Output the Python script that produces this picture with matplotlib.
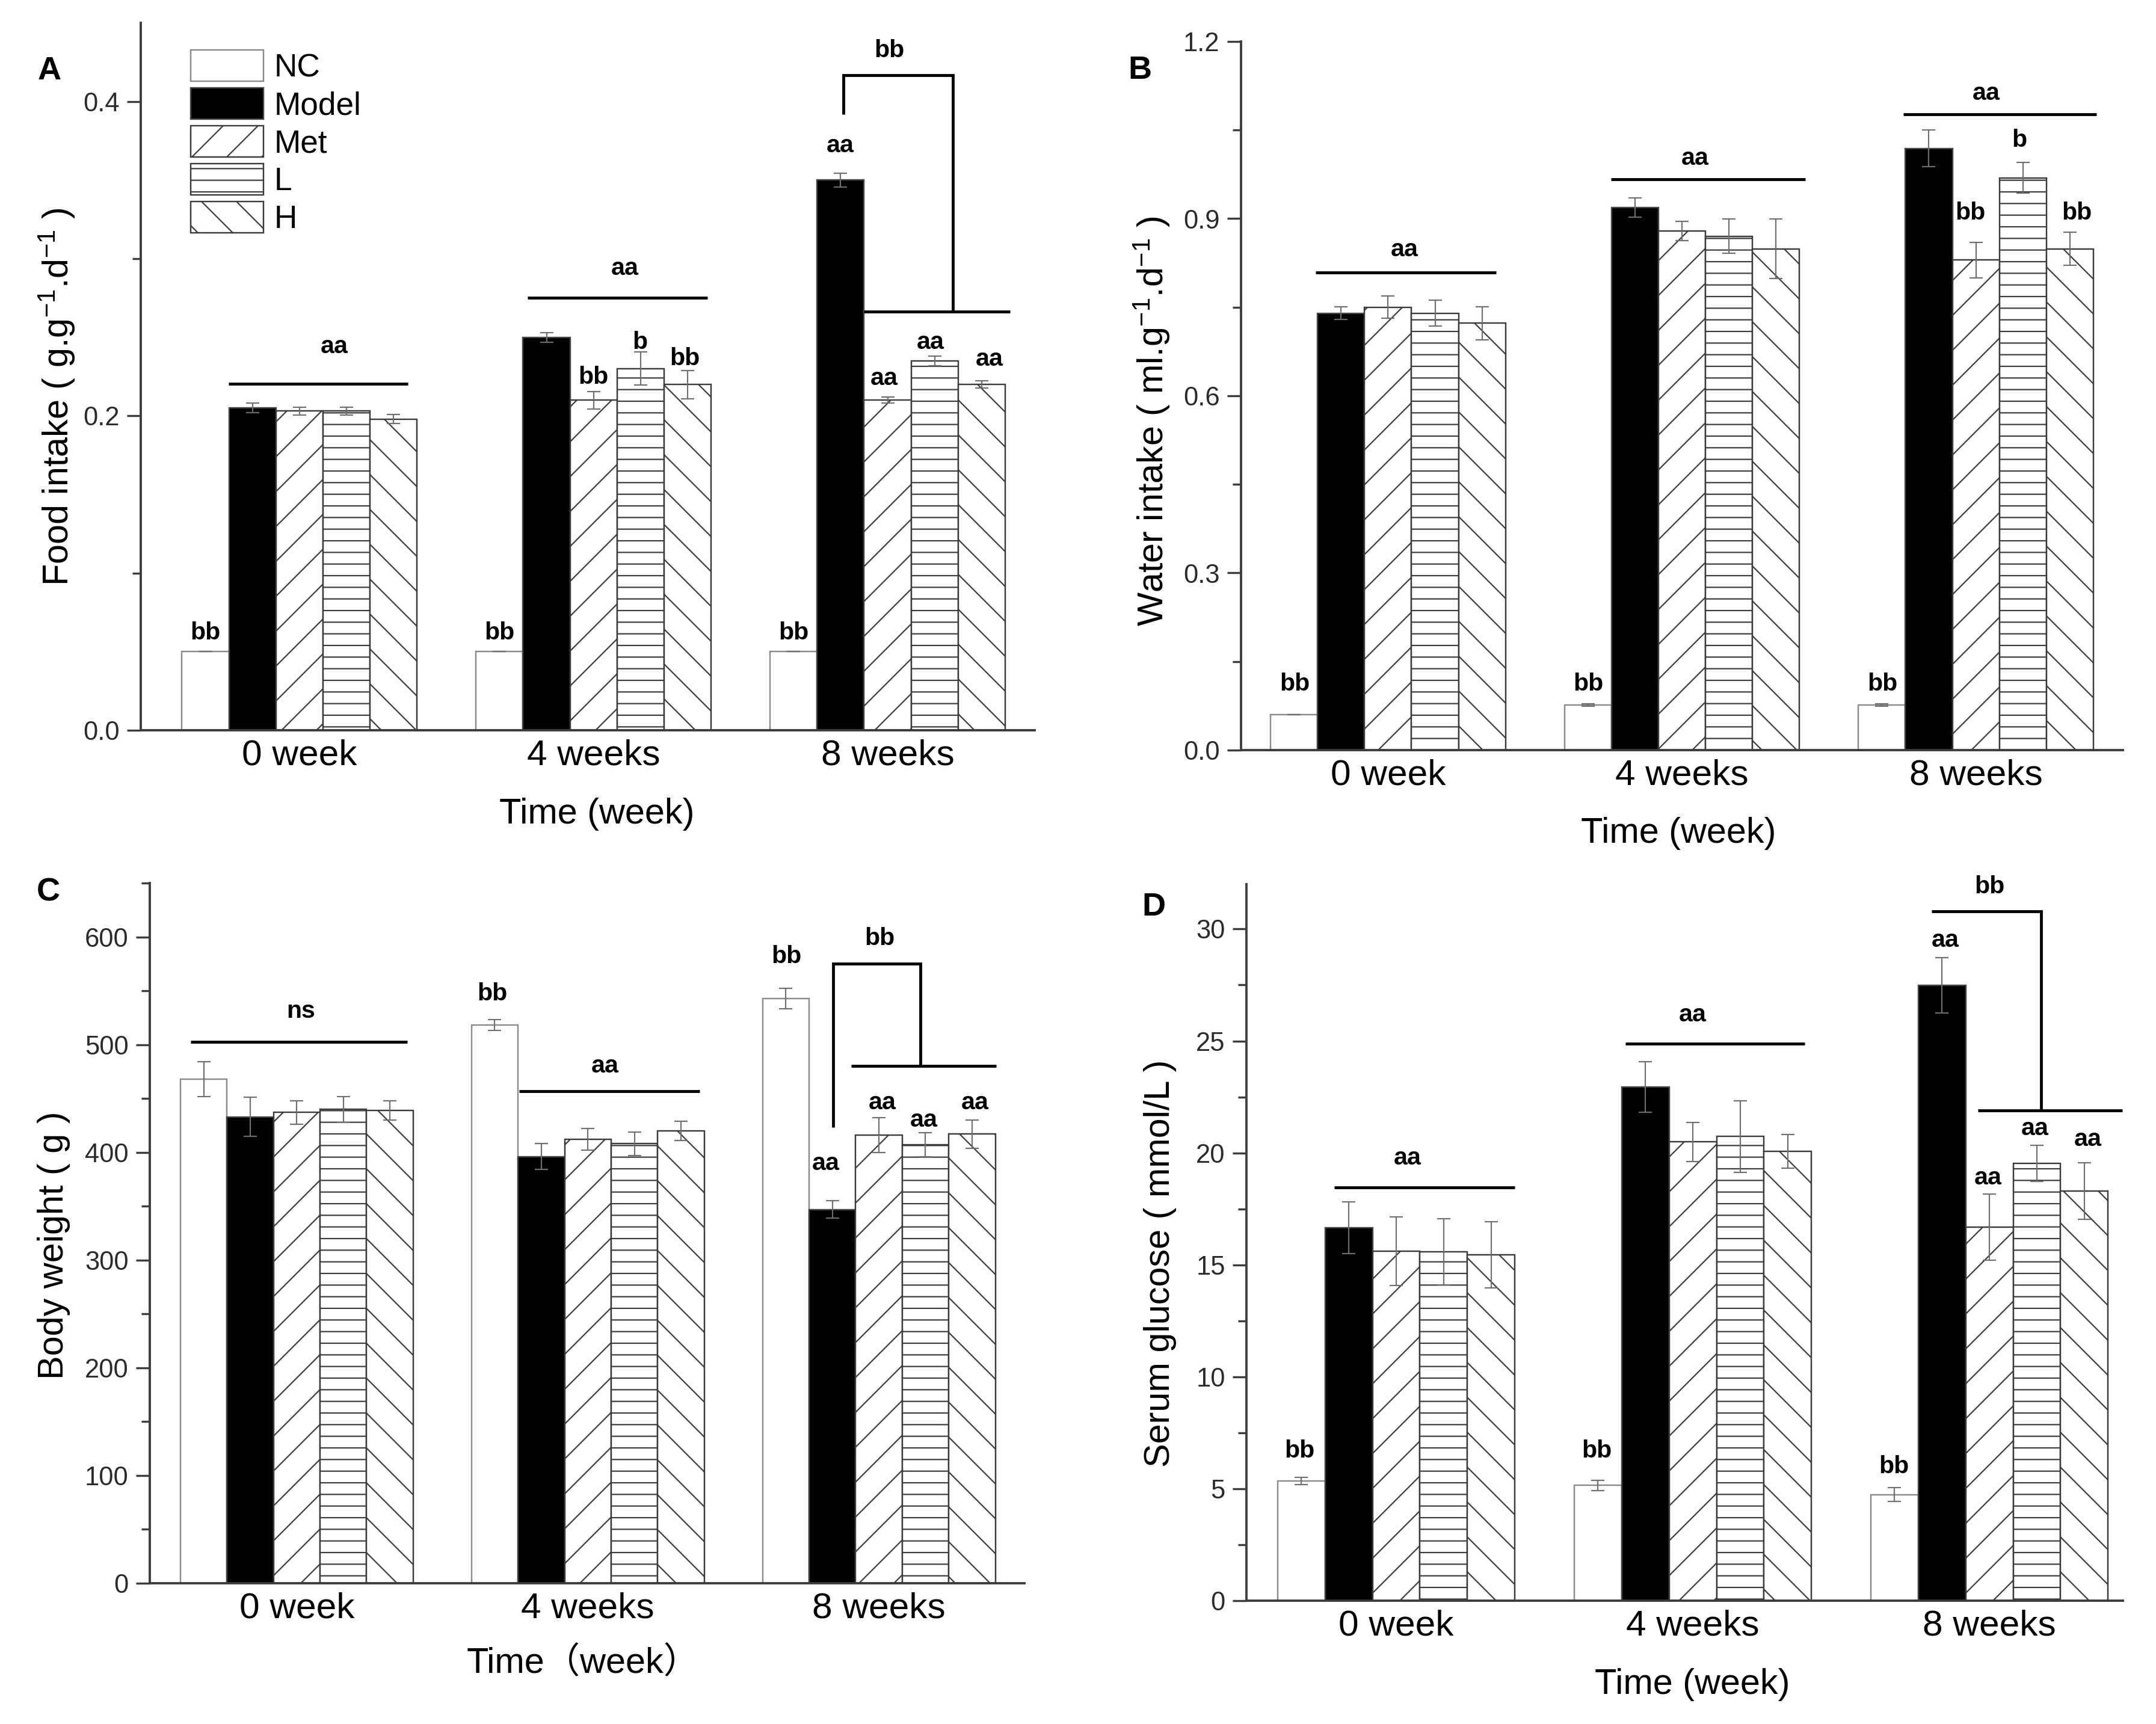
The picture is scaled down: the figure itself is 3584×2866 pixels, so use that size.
import matplotlib
matplotlib.use('Agg')
import matplotlib.pyplot as plt
import matplotlib.transforms as mtransforms
from matplotlib.ticker import MultipleLocator, FormatStrFormatter
import numpy as np

# ---------------- data ----------------
groups = ['0 week', '4 weeks', '8 weeks']
series = ['NC', 'Model', 'Met', 'L', 'H']

food_mean = {'NC': [0.050, 0.050, 0.050], 'Model': [0.205, 0.250, 0.350],
             'Met': [0.203, 0.210, 0.210], 'L': [0.203, 0.230, 0.235], 'H': [0.198, 0.220, 0.220]}
food_err = {'NC': [0.0, 0.0, 0.0], 'Model': [0.003, 0.003, 0.0045],
            'Met': [0.0025, 0.0055, 0.002], 'L': [0.0025, 0.0105, 0.003], 'H': [0.003, 0.009, 0.0022]}

water_mean = {'NC': [0.060, 0.076, 0.076], 'Model': [0.740, 0.919, 1.019],
              'Met': [0.750, 0.879, 0.830], 'L': [0.740, 0.870, 0.969], 'H': [0.723, 0.849, 0.849]}
water_err = {'NC': [0.0, 0.002, 0.002], 'Model': [0.011, 0.016, 0.031],
             'Met': [0.019, 0.016, 0.030], 'L': [0.022, 0.029, 0.026], 'H': [0.028, 0.050, 0.028]}

weight_mean = {'NC': [468, 518, 543], 'Model': [433, 396, 347],
               'Met': [437, 412, 416], 'L': [440, 408, 407], 'H': [439, 420, 417]}
weight_err = {'NC': [16, 5, 9.5], 'Model': [18, 12, 8],
              'Met': [11, 10, 16], 'L': [12, 11, 11], 'H': [9, 9, 13]}

glu_mean = {'NC': [5.35, 5.15, 4.74], 'Model': [16.66, 22.94, 27.48],
            'Met': [15.60, 20.49, 16.68], 'L': [15.58, 20.73, 19.53], 'H': [15.46, 20.07, 18.30]}
glu_err = {'NC': [0.17, 0.22, 0.32], 'Model': [1.15, 1.13, 1.23],
           'Met': [1.53, 0.88, 1.47], 'L': [1.47, 1.60, 0.81], 'H': [1.48, 0.74, 1.26]}

# significance labels: (text, group, dx, y)
food_txt = [('bb', 0, -0.32, 0.062), ('bb', 1, -0.32, 0.062), ('bb', 2, -0.32, 0.062),
            ('aa', 0, 0.118, 0.244), ('aa', 1, 0.107, 0.294),
            ('bb', 1, 0.0, 0.2246), ('b', 1, 0.158, 0.247), ('bb', 1, 0.31, 0.2365),
            ('aa', 2, -0.162, 0.372), ('bb', 2, 0.005, 0.4325),
            ('aa', 2, -0.012, 0.224), ('aa', 2, 0.145, 0.247), ('aa', 2, 0.346, 0.236)]
food_lines = [(0, [-0.242, 0.369], [0.2204, 0.2204]), (1, [-0.224, 0.387], [0.275, 0.275]),
              (2, [-0.15, -0.15, 0.222, 0.222], [0.392, 0.4168, 0.4168, 0.2665]),
              (2, [-0.082, 0.417], [0.2665, 0.2665])]

water_txt = [('bb', 0, -0.318, 0.112), ('bb', 1, -0.318, 0.112), ('bb', 2, -0.318, 0.112),
             ('aa', 0, 0.056, 0.848), ('aa', 1, 0.044, 1.002), ('aa', 2, 0.035, 1.112),
             ('bb', 2, -0.019, 0.91), ('b', 2, 0.148, 1.033), ('bb', 2, 0.344, 0.91)]
water_lines = [(0, [-0.246, 0.368], [0.809, 0.809]), (1, [-0.241, 0.419], [0.967, 0.967]),
               (2, [-0.246, 0.41], [1.077, 1.077])]

weight_txt = [('ns', 0, 0.014, 531), ('bb', 1, -0.329, 547), ('aa', 1, 0.059, 480),
              ('bb', 2, -0.317, 582), ('bb', 2, 0.002, 598.5), ('aa', 2, -0.182, 390),
              ('aa', 2, 0.012, 446), ('aa', 2, 0.154, 430), ('aa', 2, 0.329, 446)]
weight_lines = [(0, [-0.364, 0.38], [502.5, 502.5]), (1, [-0.236, 0.383], [456.6, 456.6]),
                (2, [-0.158, -0.158, 0.142, 0.142], [423.5, 575, 575, 480]),
                (2, [-0.095, 0.402], [480, 480])]

glu_txt = [('bb', 0, -0.326, 6.7), ('bb', 1, -0.324, 6.7), ('bb', 2, -0.322, 6.0),
           ('aa', 0, 0.039, 19.78), ('aa', 1, 0.0, 26.18), ('aa', 2, -0.148, 29.5),
           ('bb', 2, 0.0, 31.9), ('aa', 2, -0.005, 18.9), ('aa', 2, 0.153, 21.1), ('aa', 2, 0.331, 20.6)]
glu_lines = [(0, [-0.208, 0.40], [18.45, 18.45]), (1, [-0.227, 0.377], [24.88, 24.88]),
             (2, [-0.194, 0.174, 0.174], [30.79, 30.79, 21.9]),
             (2, [-0.039, 0.447], [21.9, 21.9])]

# ---------------- style ----------------
W, H = 3584, 2866
DPI = 348
plt.rcParams['font.family'] = ['Liberation Sans', 'DejaVu Sans']
plt.rcParams['mathtext.fontset'] = 'custom'
plt.rcParams['mathtext.rm'] = 'Liberation Sans'
plt.rcParams['mathtext.it'] = 'Liberation Sans:italic'
plt.rcParams['mathtext.bf'] = 'Liberation Sans:bold'
plt.rcParams['hatch.linewidth'] = 0.45

face = {'NC': 'white', 'Model': 'black', 'Met': 'white', 'L': 'white', 'H': 'white'}
edge = {'NC': '#8a8a8a', 'Model': '#444444', 'Met': '#3a3a3a', 'L': '#3a3a3a', 'H': '#3a3a3a'}
hatch = {'NC': None, 'Model': None, 'Met': '//', 'L': '---', 'H': '\\\\'}
BW = 0.16

fig = plt.figure(figsize=(W / DPI, H / DPI), dpi=DPI)


def px_axes(l, t, r, b):
    return fig.add_axes([l / W, 1 - b / H, (r - l) / W, (b - t) / H])


def panel(ax, mean, err, ylim, xlim, major, minor, fmt, txt, lines, ylabel, ylab_px,
          xlabel, xlab_px, xlab_family=None):
    x0 = np.arange(len(groups))
    for i, s in enumerate(series):
        xs = x0 + (i - 2) * BW
        ax.bar(xs, mean[s], BW, color=face[s], edgecolor=edge[s], hatch=hatch[s],
               linewidth=0.5, label=s, zorder=2)
        ax.errorbar(xs, mean[s], yerr=err[s], fmt='none', ecolor='#6e6e6e',
                    elinewidth=0.45, capsize=2.3, capthick=0.45, zorder=3)
    for s, g, dx, y in txt:
        ax.text(g + dx, y, s, ha='center', va='center', fontsize=8.5,
                fontweight='bold', zorder=5)
    for g, xs, ys in lines:
        ax.plot(np.array(xs) + g, ys, color='black', lw=1.0, solid_capstyle='butt',
                solid_joinstyle='miter', zorder=4, clip_on=False)
    ax.set_ylim(*ylim)
    ax.set_xlim(*xlim)
    ax.yaxis.set_major_locator(MultipleLocator(major))
    ax.yaxis.set_minor_locator(MultipleLocator(minor))
    ax.yaxis.set_major_formatter(FormatStrFormatter(fmt))
    ax.set_xticks(x0)
    ax.set_xticklabels(groups)
    for sp in ['top', 'right']:
        ax.spines[sp].set_visible(False)
    for sp in ['left', 'bottom']:
        ax.spines[sp].set_color('#3c3c3c')
        ax.spines[sp].set_linewidth(0.8)
    ax.tick_params(axis='y', which='major', direction='out', length=4.8, width=0.7,
                   color='#3c3c3c', labelsize=9, labelcolor='#2a2a2a', pad=2.5)
    ax.tick_params(axis='y', which='minor', direction='out', length=2.8, width=0.7,
                   color='#3c3c3c')
    ax.tick_params(axis='x', which='both', length=0, labelsize=12.5, pad=3)
    ax.set_ylabel(ylabel, fontsize=12.3, va='center')
    tr_y = mtransforms.blended_transform_factory(fig.transFigure, fig.transFigure)
    ax.yaxis.set_label_coords(ylab_px[0] / W, 1 - ylab_px[1] / H, transform=tr_y)
    kw = {}
    if xlab_family:
        kw['family'] = xlab_family
    ax.set_xlabel(xlabel, fontsize=12.3, va='center', **kw)
    ax.xaxis.set_label_coords(xlab_px[0] / W, 1 - xlab_px[1] / H, transform=tr_y)


axA = px_axes(234, 38, 1720, 1214)
axB = px_axes(2063, 69, 3529, 1247)
axC = px_axes(249, 1468, 1703, 2632)
axD = px_axes(2072, 1470, 3529, 2661)

panel(axA, food_mean, food_err, (0, 0.45), (-0.54, 2.5), 0.2, 0.1, '%.1f', food_txt, food_lines,
      r'Food intake ( g.g$^{-1}$.d$^{-1}$ )', (95, 660), 'Time (week)', (992, 1353))
panel(axB, water_mean, water_err, (0, 1.2), (-0.5, 2.5), 0.3, 0.15, '%.1f', water_txt, water_lines,
      r'Water intake ( ml.g$^{-1}$.d$^{-1}$ )', (1915, 700), 'Time (week)', (2790, 1385))
panel(axC, weight_mean, weight_err, (0, 650), (-0.505, 2.5), 100, 50, '%d', weight_txt, weight_lines,
      'Body weight ( g )', (90, 2070), 'Time\uff08week\uff09', (969, 2765),
      xlab_family=['Liberation Sans', 'Noto Sans CJK SC'])
panel(axD, glu_mean, glu_err, (0, 32), (-0.505, 2.45), 5, 2.5, '%d', glu_txt, glu_lines,
      'Serum glucose ( mmol/L )', (1928, 2100), 'Time (week)', (2813, 2800))

axA.legend(loc='upper left', bbox_to_anchor=(317 / W, 1 - 83 / H), bbox_transform=fig.transFigure,
           frameon=False, fontsize=11, handlelength=2.28, handleheight=1.13, labelspacing=0.15,
           handletextpad=0.32, borderpad=0, borderaxespad=0)

for letter, (lx, ly) in zip('ABCD', [(82, 118), (1895, 117), (80, 1483), (1918, 1508)]):
    fig.text(lx / W, 1 - ly / H, letter, fontsize=11.2, fontweight='bold', ha='center', va='center')

fig.savefig('out.png', dpi=DPI, facecolor='white')
